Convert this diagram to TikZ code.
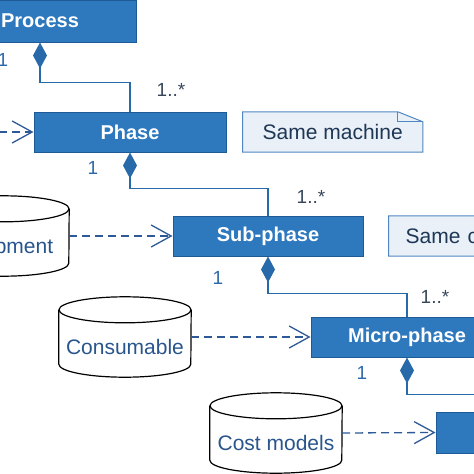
\documentclass[tikz,border=0pt]{standalone}
\usepackage{fontspec}
\setmainfont{Liberation Sans}
\usetikzlibrary{positioning,arrows.meta,calc,backgrounds}
\definecolor{ClassBlue}{RGB}{46,120,190}
\definecolor{ClassEdge}{RGB}{30,90,150}
\definecolor{NoteFill}{RGB}{233,240,248}
\definecolor{NoteEdge}{RGB}{80,135,195}
\definecolor{NoteText}{RGB}{30,55,85}
\definecolor{LineBlue}{RGB}{40,105,170}
\definecolor{DashBlue}{RGB}{45,90,150}
\definecolor{DbText}{RGB}{40,85,140}
\definecolor{MultBlue}{RGB}{45,105,170}
\definecolor{MultDark}{RGB}{55,70,90}
\tikzset{
  classbox/.style={draw=ClassEdge,fill=ClassBlue,line width=1pt,inner sep=0pt,
    minimum width=192pt,minimum height=40pt,text=white,
    font=\fontsize{20}{24}\selectfont\bfseries},
  notebox/.style={inner sep=0pt,minimum width=180pt,minimum height=40pt,
    text=NoteText,font=\fontsize{21}{25}\selectfont},
  noteline/.style={draw=NoteEdge,line width=1pt},
  dbbody/.style={inner sep=0pt,minimum width=132pt,minimum height=80pt,
    text height=35pt,text depth=0pt,text=DbText,font=\fontsize{21}{25}\selectfont},
  dbline/.style={draw=black,line width=1.2pt},
  compose/.style={{Diamond[length=26pt,width=14pt]}-,line width=1.5pt,draw=LineBlue},
  depend/.style={-{Straight Barb[length=20pt,width=22pt]},line width=1.3pt,
    draw=DashBlue,dash pattern=on 8pt off 5pt},
  mult/.style={inner sep=0pt,text=MultBlue,font=\fontsize{19}{23}\selectfont},
  multmany/.style={mult,text=MultDark}
}
\begin{document}
\begin{tikzpicture}[x=1pt,y=-1pt]
  \useasboundingbox (0,0) rectangle (474,474);
  \node[classbox,minimum height=42pt] (process) at (40,21) {Process};
  \node[classbox] (phase) at (130,132) {Phase};
  \node[classbox,minimum width=190pt] (subphase) at (268,236) {Sub-phase};
  \node[classbox] (microphase) at (407,337) {Micro-phase};
  \node[classbox,minimum height=41pt] (nextlevel) at (532,432.5) {};
  \node[notebox,right=16pt of phase] (samemachine) {Same machine};
  \node[notebox,right=25pt of subphase,text width=146pt,align=left] (samec) {Same c};
  \begin{scope}[on background layer]
    \foreach \nt in {samemachine,samec} {
      \draw[noteline,fill=NoteFill] (\nt.north west) -- ([xshift=-25pt]\nt.north east)
        -- ([yshift=-10pt]\nt.north east) -- (\nt.south east) -- (\nt.south west) -- cycle;
      \draw[noteline] ([xshift=-25pt]\nt.north east) -- ([xshift=-25pt,yshift=-10pt]\nt.north east)
        -- ([yshift=-10pt]\nt.north east);
    }
  \end{scope}
  \node[dbbody] (equipment) at (3,236) {Equipment};
  \node[dbbody] (consumable) at (125,337) {Consumable};
  \node[dbbody] (costmodels) at (276,433) {Cost models};
  \foreach \db in {equipment,consumable,costmodels} {
    \draw[dbline] ([yshift=-13pt]\db.north west) -- ([yshift=13pt]\db.south west)
      arc[start angle=180,end angle=360,x radius=66pt,y radius=13pt]
      -- ([yshift=-13pt]\db.north east);
    \draw[dbline] ([yshift=-13pt]\db.north) ellipse[x radius=66pt,y radius=13pt];
  }
  \draw[compose] (process.south) -- ++(0,40) -| (phase.north);
  \draw[compose] (phase.south) -- ++(0,36) -| (subphase.north);
  \draw[compose] (subphase.south) -- ++(0,37) -| (microphase.north);
  \draw[compose] (microphase.south) -- ++(0,37) -| (nextlevel.north);
  \node[mult] (procone) at (3,60) {1};
  \node[mult] (phaseone) at (93,168) {1};
  \node[mult] (subone) at (218,278) {1};
  \node[mult] (microone) at (362,373) {1};
  \node[multmany] (phasemany) at (171,90) {1..*};
  \node[multmany] (submany) at (311,197) {1..*};
  \node[multmany] (micromany) at (435,297) {1..*};
  \coordinate (offleft) at (-40,132);
  \draw[depend] (offleft) -- (phase.west);
  \draw[depend] (equipment.east) -- (subphase.west);
  \draw[depend] (consumable.east) -- (microphase.west);
  \draw[depend] (costmodels.east) -- (nextlevel.west);
\end{tikzpicture}
\end{document}
